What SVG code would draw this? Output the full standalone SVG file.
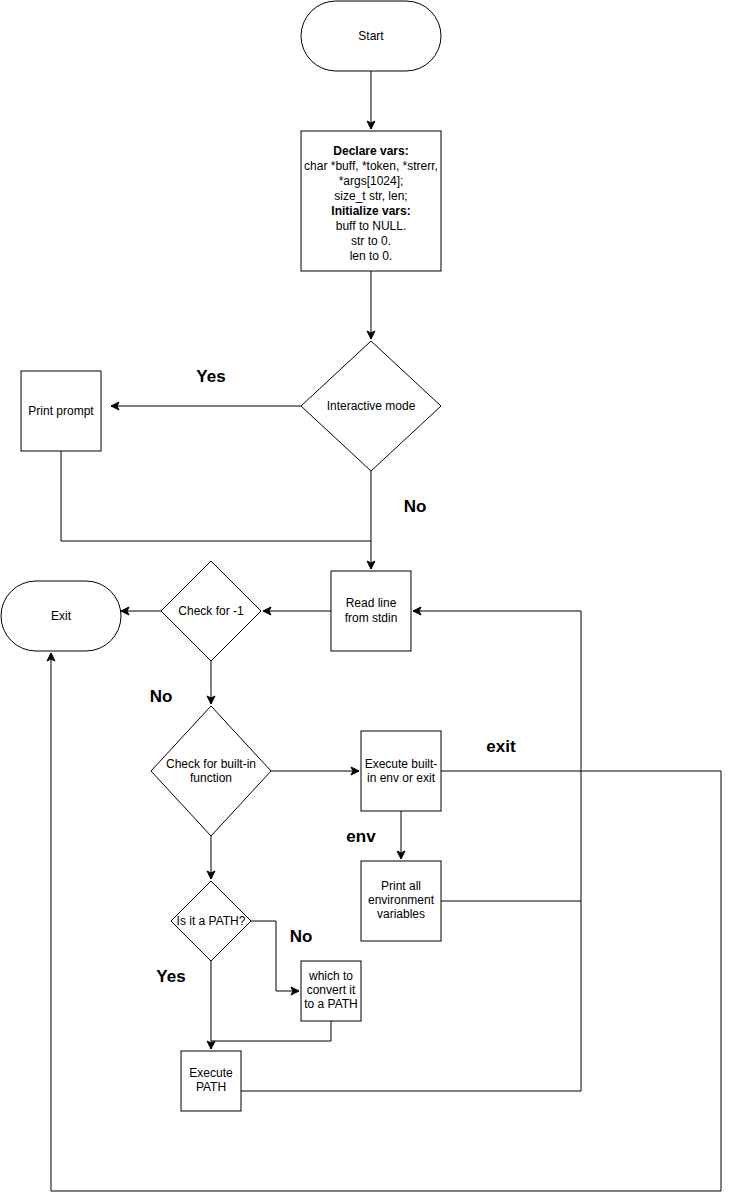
<svg xmlns="http://www.w3.org/2000/svg" width="730" height="1200" viewBox="0 0 730 1200">
<style>
.s{fill:#fff;stroke:#000;stroke-width:1}
.t{font-family:"Liberation Sans",Arial,sans-serif;font-size:12px;text-anchor:middle;fill:#000}
.b{font-family:"Liberation Sans",Arial,sans-serif;font-size:17px;font-weight:bold;text-anchor:middle;fill:#000}
.c{fill:none;stroke:#000;stroke-width:1}
</style>
<defs><marker id="a" markerWidth="10" markerHeight="10" refX="9" refY="5" orient="auto" markerUnits="userSpaceOnUse"><path d="M1,1 L9,5 L1,9 L3,5 Z" fill="#000" stroke="#000"/></marker></defs>
<rect width="730" height="1200" fill="#fff"/>
<g id="connectors">
<path class="c" d="M371,71V129" marker-end="url(#a)"/>
<path class="c" d="M371,271V339" marker-end="url(#a)"/>
<path class="c" d="M301,406H111" marker-end="url(#a)"/>
<path class="c" d="M371,471V569" marker-end="url(#a)"/>
<path class="c" d="M61,451V541H371"/>
<path class="c" d="M331,611H263" marker-end="url(#a)"/>
<path class="c" d="M161,611H121" marker-end="url(#a)"/>
<path class="c" d="M211,661V704" marker-end="url(#a)"/>
<path class="c" d="M271,771H359" marker-end="url(#a)"/>
<path class="c" d="M441,771H721V1191H51V653" marker-end="url(#a)"/>
<path class="c" d="M401,811V859" marker-end="url(#a)"/>
<path class="c" d="M441,901H581"/>
<path class="c" d="M581,1091V611H413" marker-end="url(#a)"/>
<path class="c" d="M211,836V879" marker-end="url(#a)"/>
<path class="c" d="M251,921H276V991H299" marker-end="url(#a)"/>
<path class="c" d="M211,961V1049" marker-end="url(#a)"/>
<path class="c" d="M331,1021V1041H211"/>
<path class="c" d="M241,1091H581"/>
</g>
<text class="b" x="211" y="382">Yes</text>
<text class="b" x="415" y="512">No</text>
<text class="b" x="161" y="702">No</text>
<text class="b" x="501" y="752">exit</text>
<text class="b" x="361" y="842">env</text>
<text class="b" x="301" y="942">No</text>
<text class="b" x="171" y="982">Yes</text>
<g id="start"><rect class="s" x="301" y="1" width="140" height="70" rx="35"/><text class="t" x="371" y="40">Start</text></g>
<g id="declare"><rect class="s" x="301" y="131" width="140" height="140"/>
<text class="t" x="371" y="155"><tspan font-weight="bold">Declare vars:</tspan><tspan x="371" dy="15">char *buff, *token, *strerr,</tspan><tspan x="371" dy="15">*args[1024];</tspan><tspan x="371" dy="15">size_t str, len;</tspan><tspan x="371" dy="15" font-weight="bold">Initialize vars:</tspan><tspan x="371" dy="15">buff to NULL.</tspan><tspan x="371" dy="15">str to 0.</tspan><tspan x="371" dy="15">len to 0.</tspan></text></g>
<g id="interactive"><path class="s" d="M371,341L441,406L371,471L301,406Z"/><text class="t" x="371" y="410">Interactive mode</text></g>
<g id="prompt"><rect class="s" x="21" y="371" width="80" height="80"/><text class="t" x="61" y="415">Print prompt</text></g>
<g id="readline"><rect class="s" x="331" y="571" width="80" height="80"/><text class="t" x="371" y="607">Read line<tspan x="371" dy="15">from stdin</tspan></text></g>
<g id="check1"><path class="s" stroke-width="2" d="M211,561L261,611L211,661L161,611Z"/><text class="t" x="211" y="615">Check for -1</text></g>
<g id="exit"><rect class="s" x="1" y="581" width="120" height="70" rx="35"/><text class="t" x="61" y="620">Exit</text></g>
<g id="builtin"><path class="s" d="M211,706L271,771L211,836L151,771Z"/><text class="t" x="211" y="768">Check for built-in<tspan x="211" dy="14">function</tspan></text></g>
<g id="execbuiltin"><rect class="s" x="361" y="731" width="80" height="80"/><text class="t" x="401" y="768">Execute built-<tspan x="401" dy="14">in env or exit</tspan></text></g>
<g id="printenv"><rect class="s" x="361" y="861" width="80" height="80"/><text class="t" x="401" y="890">Print all<tspan x="401" dy="14">environment</tspan><tspan x="401" dy="14">variables</tspan></text></g>
<g id="ispath"><path class="s" d="M211,881L251,921L211,961L171,921Z"/><text class="t" x="211" y="925">Is it a PATH?</text></g>
<g id="which"><rect class="s" x="301" y="961" width="60" height="60"/><text class="t" x="331" y="980" font-size="11">which to<tspan x="331" dy="14">convert it</tspan><tspan x="331" dy="14">to a PATH</tspan></text></g>
<g id="execpath"><rect class="s" x="181" y="1051" width="60" height="60"/><text class="t" x="211" y="1077">Execute<tspan x="211" dy="14">PATH</tspan></text></g>
</svg>
